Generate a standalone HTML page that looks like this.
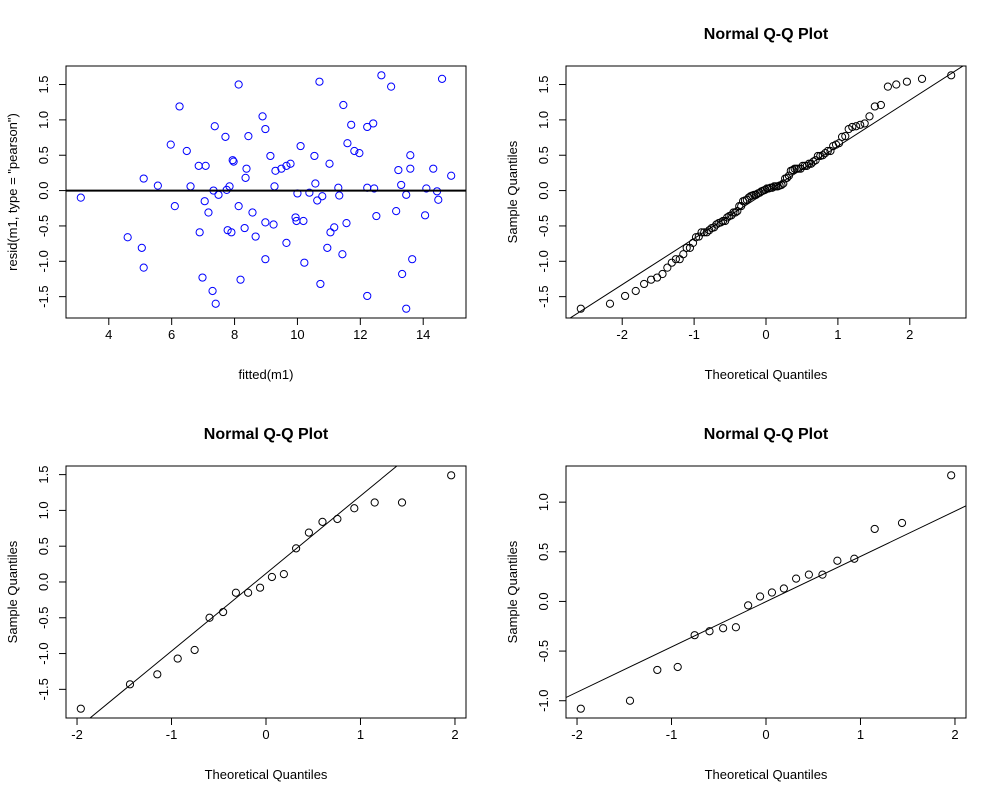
<!DOCTYPE html>
<html><head><meta charset="utf-8">
<style>
html,body{margin:0;padding:0;background:#fff;}
svg{display:block;font-family:"Liberation Sans",Arial,sans-serif;}
</style></head>
<body>
<svg id="chart" width="1000" height="800" viewBox="0 0 1000 800" xmlns="http://www.w3.org/2000/svg"></svg>
<script>
// ---- Panel 1 data: fitted vs pearson residuals ----
const fittedVals = [3.11,6.25,8.13,8.89,8.98,7.37,7.71,8.44,5.97,6.48,6.86,7.08,7.94,7.97,8.38,8.35,5.11,5.56,6.60,7.33,7.49,7.75,7.84,6.10,7.05,7.17,8.13,8.57,8.98,6.89,7.78,7.90,8.32,8.67,4.60,5.05,5.11,8.98,6.98,8.19,7.30,7.40,
10.70,12.67,12.98,14.60,11.46,11.71,12.22,12.41,10.10,11.59,11.81,11.97,9.14,10.54,13.59,11.02,9.30,9.49,9.65,9.78,13.21,13.59,14.32,14.89,9.27,10.57,11.30,12.22,12.44,13.30,14.10,10.00,10.38,10.63,10.79,11.33,13.46,14.44,14.48,13.14,14.06,12.51,9.24,9.94,9.97,10.19,11.56,11.17,11.05,9.65,10.95,11.43,10.22,13.65,13.33,10.73,12.22,13.46];
const residVals = [-0.10,1.19,1.50,1.05,0.87,0.91,0.76,0.77,0.65,0.56,0.35,0.35,0.43,0.41,0.31,0.18,0.17,0.07,0.06,0.00,-0.06,0.01,0.06,-0.22,-0.15,-0.31,-0.22,-0.31,-0.45,-0.59,-0.56,-0.59,-0.53,-0.65,-0.66,-0.81,-1.09,-0.97,-1.23,-1.26,-1.42,-1.60,
1.54,1.63,1.47,1.58,1.21,0.93,0.90,0.95,0.63,0.67,0.56,0.53,0.49,0.49,0.50,0.38,0.28,0.31,0.35,0.38,0.29,0.31,0.31,0.21,0.06,0.10,0.04,0.04,0.03,0.08,0.03,-0.04,-0.03,-0.14,-0.08,-0.07,-0.06,-0.01,-0.13,-0.29,-0.35,-0.36,-0.48,-0.38,-0.43,-0.43,-0.46,-0.52,-0.59,-0.74,-0.81,-0.90,-1.02,-0.97,-1.18,-1.32,-1.49,-1.67];
// ---- Panel 3 & 4 samples ----
const sample3 = [-1.77,-1.43,-1.29,-1.07,-0.95,-0.50,-0.42,-0.15,-0.15,-0.08,0.07,0.11,0.47,0.69,0.84,0.88,1.03,1.11,1.11,1.49];
const sample4 = [-1.08,-1.00,-0.69,-0.66,-0.34,-0.30,-0.27,-0.26,-0.04,0.05,0.09,0.13,0.23,0.27,0.27,0.41,0.43,0.73,0.79,1.27];
// ---- ticks ----
const ticksX1 = [4,6,8,10,12,14];
const ticksY1 = [-1.5,-1.0,-0.5,0.0,0.5,1.0,1.5];
const ticksXq = [-2,-1,0,1,2];
const ticksY4 = [-1.0,-0.5,0.0,0.5,1.0];

const NS="http://www.w3.org/2000/svg";
const svg=document.getElementById('chart');
function mk(tag,attrs,parent){const e=document.createElementNS(NS,tag);for(const k in attrs)e.setAttribute(k,attrs[k]);(parent||svg).appendChild(e);return e;}

function qnorm(p){
  const a=[-3.969683028665376e+01,2.209460984245205e+02,-2.759285104469687e+02,1.383577518672690e+02,-3.066479806614716e+01,2.506628277459239e+00];
  const b=[-5.447609879822406e+01,1.615858368580409e+02,-1.556989798598866e+02,6.680131188771972e+01,-1.328068155288572e+01];
  const c=[-7.784894002430293e-03,-3.223964580411365e-01,-2.400758277161838e+00,-2.549732539343734e+00,4.374664141464968e+00,2.938163982698783e+00];
  const d=[7.784695709041462e-03,3.224671290700398e-01,2.445134137142996e+00,3.754408661907416e+00];
  const pl=0.02425;let q,r;
  if(p<pl){q=Math.sqrt(-2*Math.log(p));return (((((c[0]*q+c[1])*q+c[2])*q+c[3])*q+c[4])*q+c[5])/((((d[0]*q+d[1])*q+d[2])*q+d[3])*q+1);}
  if(p>1-pl){q=Math.sqrt(-2*Math.log(1-p));return -(((((c[0]*q+c[1])*q+c[2])*q+c[3])*q+c[4])*q+c[5])/((((d[0]*q+d[1])*q+d[2])*q+d[3])*q+1);}
  q=p-0.5;r=q*q;return (((((a[0]*r+a[1])*r+a[2])*r+a[3])*r+a[4])*r+a[5])*q/(((((b[0]*r+b[1])*r+b[2])*r+b[3])*r+b[4])*r+1);
}
function ppoints(n){const a=n<=10?3/8:0.5;const o=[];for(let i=1;i<=n;i++)o.push((i-a)/(n+1-2*a));return o;}
function quant7(sorted,p){const h=(sorted.length-1)*p;const lo=Math.floor(h);const hi=Math.min(lo+1,sorted.length-1);return sorted[lo]+(h-lo)*(sorted[hi]-sorted[lo]);}
function ext(vals){const mn=Math.min(...vals),mx=Math.max(...vals);const d=(mx-mn)*0.04;return [mn-d,mx+d];}
function fmt(v,dec){return v.toFixed(dec);}

function panel(ox,oy,name,xs,ys,opts){
  const L=ox+66,R=ox+466,T=oy+66,B=oy+318;
  const xd=ext(xs),yd=ext(ys);
  const sx=v=>L+(v-xd[0])/(xd[1]-xd[0])*(R-L);
  const sy=v=>B-(v-yd[0])/(yd[1]-yd[0])*(B-T);
  const g=mk('g',{});
  
  
  const clipId='clip-'+name;
  const cp=mk('clipPath',{id:clipId},g);mk('rect',{x:L,y:T,width:R-L,height:B-T},cp);
  const pg=mk('g',{},g);
  
  
  for(let i=0;i<xs.length;i++){
    const c=mk('circle',{cx:sx(xs[i]),cy:sy(ys[i]),r:3.6,fill:'none',stroke:opts.color,'stroke-width':1},pg);
    
    
  }
  if(opts.hline!==undefined){
    const l=mk('line',{x1:L,x2:R,y1:sy(opts.hline),y2:sy(opts.hline),stroke:'#000','stroke-width':2},g);
    
    
  }
  if(opts.qq){
    const s=ys.slice().sort((a,b)=>a-b);
    const y1=quant7(s,0.25),y2=quant7(s,0.75),x1=qnorm(0.25),x2=qnorm(0.75);
    const sl=(y2-y1)/(x2-x1),ic=y1-sl*x1;
    const l=mk('line',{x1:sx(xd[0]-1),x2:sx(xd[1]+1),y1:sy(ic+sl*(xd[0]-1)),y2:sy(ic+sl*(xd[1]+1)),stroke:'#000','stroke-width':1,'clip-path':'url(#'+clipId+')'},g);
    
    
  }
  const box=mk('rect',{x:L,y:T,width:R-L,height:B-T,fill:'none',stroke:'#000','stroke-width':1},g);
  
  
  const xa=mk('g',{},g);
  
  
  const tx=opts.tx;
  mk('line',{x1:sx(tx[0]),x2:sx(tx[tx.length-1]),y1:B,y2:B,stroke:'#000'},xa);
  tx.forEach(v=>{
    mk('line',{x1:sx(v),x2:sx(v),y1:B,y2:B+7,stroke:'#000'},xa);
    const t=mk('text',{x:sx(v),y:B+21,'text-anchor':'middle','font-size':13},xa);t.textContent=String(v);
    
    
  });
  const ty=opts.ty;
  const ya=mk('g',{},g);
  
  
  mk('line',{x1:L,x2:L,y1:sy(ty[0]),y2:sy(ty[ty.length-1]),stroke:'#000'},ya);
  ty.forEach(v=>{
    mk('line',{x1:L-7,x2:L,y1:sy(v),y2:sy(v),stroke:'#000'},ya);
    const t=mk('text',{x:0,y:0,'text-anchor':'middle','font-size':13,transform:`translate(${L-18},${sy(v)}) rotate(-90)`},ya);t.textContent=fmt(v,1);
    
    
  });
  const xl=mk('text',{x:(L+R)/2,y:oy+379,'text-anchor':'middle','font-size':13},g);xl.textContent=opts.xlab;
  
  
  const yl=mk('text',{x:0,y:0,'text-anchor':'middle','font-size':13,transform:`translate(${ox+17},${(T+B)/2}) rotate(-90)`},g);yl.textContent=opts.ylab;
  
  
  if(opts.title){
    const tt=mk('text',{x:(L+R)/2,y:oy+39,'text-anchor':'middle','font-size':16,'font-weight':'bold'},g);tt.textContent=opts.title;
    
    
  }
}

panel(0,0,'residual-plot',fittedVals,residVals,{color:'#0000ff',hline:0,tx:ticksX1,ty:ticksY1,xlab:'fitted(m1)',ylab:'resid(m1, type = "pearson")'});
const sortedRes=residVals.slice().sort((a,b)=>a-b);
panel(500,0,'qq-plot-residuals',ppoints(sortedRes.length).map(qnorm),sortedRes,{color:'#000',qq:true,tx:ticksXq,ty:ticksY1,xlab:'Theoretical Quantiles',ylab:'Sample Quantiles',title:'Normal Q-Q Plot'});
const s3=sample3.slice().sort((a,b)=>a-b);
panel(0,400,'qq-plot-sample-a',ppoints(s3.length).map(qnorm),s3,{color:'#000',qq:true,tx:ticksXq,ty:ticksY1,xlab:'Theoretical Quantiles',ylab:'Sample Quantiles',title:'Normal Q-Q Plot'});
const s4=sample4.slice().sort((a,b)=>a-b);
panel(500,400,'qq-plot-sample-b',ppoints(s4.length).map(qnorm),s4,{color:'#000',qq:true,tx:ticksXq,ty:ticksY4,xlab:'Theoretical Quantiles',ylab:'Sample Quantiles',title:'Normal Q-Q Plot'});
</script>
</body></html>
